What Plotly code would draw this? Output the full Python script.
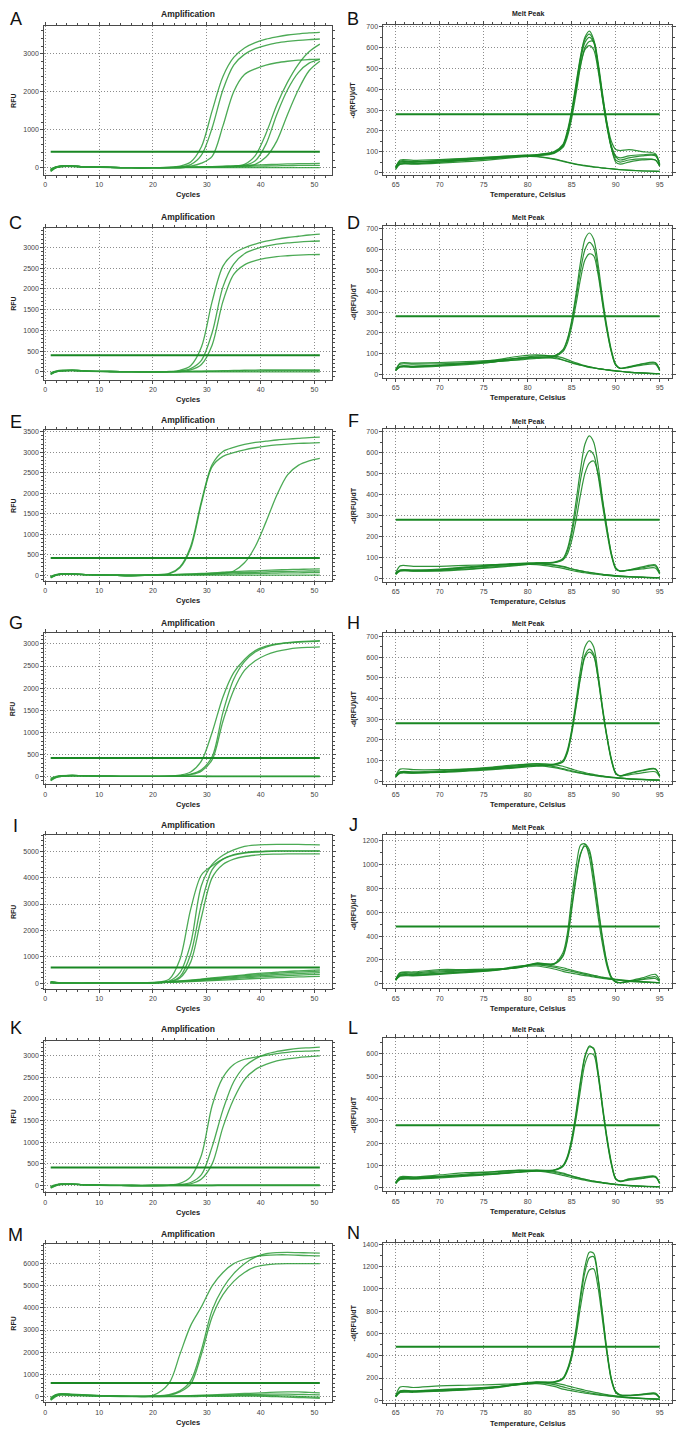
import plotly.graph_objects as go

# ---------------- data ----------------
CYCLES = [1, 2, 3, 5, 8, 12, 16, 20, 23, 25, 27, 29, 31, 33, 35, 37, 39, 41, 43, 45, 47, 49, 51]
TEMPS = [65, 65.5, 67, 70, 73, 76, 79, 81, 83, 84, 84.5, 85, 85.5, 86, 86.5, 87, 87.5, 88, 88.5, 89, 89.5, 90, 90.5, 91.5, 93, 94.5, 95]

amp_A = [
    [-80, 20, 50, 40, 20, 10, 0, 0, 10, 40, 150, 550, 1500, 2400, 2900, 3150, 3290, 3380, 3440, 3490, 3520, 3545, 3560],
    [-50, 10, 40, 40, 20, 10, 0, 0, 5, 20, 80, 330, 1050, 2050, 2700, 2980, 3130, 3220, 3280, 3320, 3350, 3370, 3385],
    [-100, 0, 30, 40, 20, 10, 0, 0, 0, 10, 40, 120, 300, 1100, 2000, 2450, 2600, 2700, 2760, 2800, 2830, 2845, 2855],
    [-60, 10, 40, 40, 20, 10, 0, 0, 0, 5, 10, 15, 20, 30, 40, 90, 320, 900, 1650, 2250, 2720, 3050, 3250],
    [-90, 0, 30, 40, 20, 10, 0, 0, 0, 5, 10, 15, 20, 25, 35, 60, 180, 620, 1400, 2050, 2500, 2750, 2850],
    [-40, 20, 40, 40, 20, 10, 0, 0, 0, 5, 10, 10, 15, 20, 25, 40, 90, 280, 700, 1400, 2050, 2550, 2800],
    [-70, 10, 40, 40, 20, 10, 0, 0, 5, 10, 15, 20, 30, 40, 50, 60, 70, 80, 90, 100, 105, 110, 115],
    [-30, 20, 40, 35, 20, 10, 0, 0, 0, 5, 10, 15, 20, 25, 30, 35, 40, 45, 50, 55, 60, 60, 60],
    [-50, 0, 30, 30, 15, 5, 0, 0, 0, 0, 0, 0, 0, 0, 0, 0, 0, 0, 0, 0, 0, 0, 0],
]
amp_C = [
    [-50, 10, 30, 40, 20, 10, 5, 0, 10, 40, 150, 600, 1700, 2550, 2850, 2990, 3080, 3150, 3200, 3240, 3270, 3300, 3320],
    [-30, 10, 30, 40, 20, 10, 5, 0, 5, 20, 80, 280, 950, 2050, 2600, 2850, 2960, 3030, 3080, 3110, 3130, 3145, 3155],
    [-60, 0, 20, 35, 20, 10, 5, 0, 5, 10, 50, 180, 650, 1700, 2350, 2580, 2680, 2740, 2780, 2800, 2815, 2825, 2830],
    [-40, 10, 30, 40, 20, 10, 0, 0, 5, 10, 15, 20, 25, 30, 35, 40, 45, 50, 50, 50, 50, 50, 50],
    [-20, 20, 40, 30, 20, 10, 0, 0, 0, 5, 10, 10, 15, 20, 20, 25, 25, 30, 30, 30, 30, 30, 30],
    [-60, 0, 20, 30, 15, 5, 0, 0, 0, 0, 0, 0, 0, 0, 0, 0, 0, 0, 0, 0, 0, 0, 0],
]
amp_E = [
    [-60, 0, 30, 30, 10, 0, -10, 10, 40, 200, 700, 1800, 2700, 3020, 3120, 3190, 3240, 3270, 3300, 3320, 3340, 3360, 3370],
    [-40, 10, 30, 30, 10, 0, -10, 5, 30, 180, 650, 1750, 2650, 2900, 2990, 3060, 3110, 3150, 3180, 3200, 3215, 3225, 3235],
    [-50, 0, 20, 30, 10, 0, -10, 0, 10, 15, 20, 20, 25, 40, 100, 300, 700, 1300, 1950, 2450, 2680, 2790, 2850],
    [-70, 0, 30, 30, 10, 0, -10, 0, 10, 20, 30, 40, 55, 70, 85, 95, 105, 115, 125, 135, 140, 145, 150],
    [-30, 10, 30, 30, 10, 0, -10, 0, 5, 10, 20, 30, 40, 50, 60, 65, 70, 80, 85, 90, 95, 100, 100],
    [-50, 0, 20, 25, 10, 0, -10, 0, 5, 10, 10, 15, 20, 25, 30, 35, 40, 45, 50, 55, 55, 60, 60],
    [-40, 0, 20, 20, 5, 0, -10, 0, 0, 0, 0, 0, 0, 0, 0, 0, 0, 0, 0, 0, 0, 0, 0],
]
amp_G = [
    [-80, -20, 10, 20, 10, 5, 0, 0, 5, 30, 100, 350, 1000, 1800, 2350, 2650, 2850, 2950, 3000, 3030, 3050, 3065, 3075],
    [-60, -10, 10, 20, 10, 5, 0, 0, 5, 15, 50, 150, 450, 1450, 2200, 2600, 2820, 2930, 2990, 3020, 3040, 3055, 3065],
    [-90, -20, 0, 15, 10, 5, 0, 0, 5, 10, 40, 120, 380, 1250, 1950, 2400, 2620, 2750, 2830, 2880, 2910, 2925, 2935],
    [-70, -10, 10, 20, 10, 5, 0, 0, 0, 0, 5, 5, 5, 5, 5, 5, 5, 5, 5, 5, 5, 5, 5],
    [-40, 0, 15, 20, 10, 5, 0, 0, 0, 0, 0, 0, 0, 0, 0, 0, 0, 0, 0, 0, 0, 0, 0],
    [-100, -30, 0, 10, 5, 0, 0, 0, 0, 0, 0, 0, -5, -5, -5, -5, -5, -5, -5, -5, -5, -5, -5],
]
amp_I = [
    [50, 30, 10, 0, 0, 0, 0, 20, 150, 900, 2800, 4100, 4450, 4700, 4850, 4930, 4970, 4990, 5000, 5000, 5000, 5000, 5000],
    [40, 20, 10, 0, 0, 0, 0, 15, 80, 400, 1500, 3700, 4500, 4850, 5050, 5180, 5230, 5250, 5260, 5260, 5260, 5250, 5240],
    [30, 20, 10, 0, 0, 0, 0, 10, 60, 250, 1100, 3000, 4300, 4700, 4870, 4950, 4990, 5000, 5010, 5010, 5010, 5010, 5010],
    [40, 20, 10, 0, 0, 0, 0, 10, 50, 200, 800, 2500, 4000, 4500, 4700, 4800, 4850, 4880, 4890, 4900, 4900, 4900, 4900],
    [60, 30, 10, 0, 0, 0, 5, 30, 60, 90, 120, 160, 200, 240, 280, 320, 360, 390, 420, 450, 470, 490, 510],
    [40, 20, 10, 0, 0, 0, 5, 25, 50, 80, 110, 145, 180, 215, 250, 285, 320, 350, 380, 400, 420, 440, 460],
    [30, 20, 5, 0, 0, 0, 5, 20, 45, 70, 95, 125, 155, 185, 215, 245, 275, 300, 325, 345, 365, 385, 400],
    [20, 10, 5, 0, 0, 0, 5, 20, 40, 60, 80, 105, 130, 155, 180, 205, 230, 250, 270, 290, 310, 325, 340],
    [10, 5, 0, 0, 0, 0, 5, 15, 30, 45, 60, 80, 100, 120, 140, 160, 180, 195, 210, 225, 240, 250, 260],
]
amp_K = [
    [-40, 10, 30, 30, 15, 5, 0, 0, 10, 50, 200, 700, 1850, 2500, 2800, 2920, 2970, 3010, 3050, 3080, 3100, 3110, 3120],
    [-30, 10, 30, 30, 15, 5, 0, 0, 5, 20, 70, 250, 900, 1750, 2400, 2750, 2930, 3040, 3100, 3140, 3170, 3185, 3200],
    [-50, 0, 25, 30, 15, 5, 0, 0, 5, 15, 40, 150, 500, 1350, 2000, 2450, 2680, 2800, 2880, 2930, 2960, 2980, 3000],
    [-40, 10, 30, 30, 15, 5, 0, 0, 5, 5, 10, 10, 10, 15, 15, 15, 15, 15, 15, 15, 15, 15, 15],
    [-20, 20, 35, 30, 15, 5, 0, 0, 0, 0, 0, 0, 0, 0, 0, 0, 0, 0, 0, 0, 0, 0, 0],
    [-60, 0, 20, 25, 10, 0, 0, 0, 0, 0, 0, 0, 0, 5, 5, 5, 5, 5, 5, 5, 5, 5, 5],
]
amp_M = [
    [-150, 50, 100, 80, 50, 20, 0, 50, 600, 1900, 3200, 4050, 5000, 5600, 6000, 6200, 6320, 6380, 6400, 6400, 6380, 6360, 6350],
    [-100, 80, 100, 80, 50, 20, 0, 20, 80, 250, 700, 2100, 3900, 4900, 5550, 6000, 6300, 6450, 6500, 6510, 6500, 6490, 6480],
    [-120, 60, 90, 70, 40, 20, 0, 10, 50, 200, 550, 1900, 3600, 4600, 5200, 5600, 5850, 5950, 5990, 6000, 6000, 6000, 6000],
    [-180, 0, 80, 60, 40, 20, 0, 0, 10, 20, 30, 50, 70, 90, 110, 130, 150, 170, 190, 200, 200, 180, 160],
    [-100, 50, 100, 80, 40, 20, 0, 0, 10, 20, 30, 40, 50, 60, 70, 80, 90, 100, 100, 100, 90, 80, 70],
    [-150, 20, 60, 40, 20, 0, -10, -10, 0, 10, 20, 30, 30, 40, 40, 50, 50, 40, 30, 20, 0, -20, -40],
    [-50, 80, 120, 100, 60, 20, 0, -10, -10, -10, -10, 0, 0, 0, 10, 10, 10, 0, -10, -30, -50, -70, -90],
]

melt_B = [
    [25, 60, 58, 62, 68, 75, 82, 86, 100, 135, 200, 300, 430, 560, 650, 680, 640, 520, 370, 240, 150, 110, 105, 110, 100, 90, 40],
    [20, 50, 50, 55, 62, 70, 80, 85, 98, 130, 190, 290, 420, 550, 640, 665, 630, 510, 360, 230, 130, 80, 70, 80, 85, 85, 35],
    [20, 45, 45, 50, 58, 66, 76, 82, 95, 125, 185, 280, 410, 540, 625, 650, 625, 510, 360, 225, 120, 60, 50, 60, 65, 60, 30],
    [15, 40, 40, 45, 52, 62, 74, 80, 92, 120, 170, 260, 380, 510, 600, 630, 630, 530, 380, 240, 120, 50, 40, 50, 60, 60, 30],
    [25, 55, 52, 55, 62, 70, 78, 83, 95, 128, 185, 280, 400, 520, 590, 610, 590, 490, 350, 220, 120, 75, 60, 70, 80, 80, 35],
    [30, 50, 50, 58, 66, 74, 80, 78, 65, 55, 50, 45, 40, 37, 34, 30, 27, 25, 22, 20, 18, 16, 14, 11, 8, 6, 5],
    [20, 40, 42, 50, 60, 70, 78, 76, 63, 53, 48, 43, 39, 35, 32, 29, 26, 24, 21, 19, 17, 15, 13, 10, 7, 5, 5],
]
melt_D = [
    [20, 55, 55, 58, 62, 68, 78, 85, 90, 120, 170, 260, 390, 540, 650, 680, 650, 530, 370, 230, 120, 50, 30, 35, 50, 55, 20],
    [20, 40, 40, 45, 52, 60, 72, 82, 88, 115, 165, 250, 370, 500, 600, 635, 610, 500, 350, 220, 110, 45, 30, 38, 52, 58, 25],
    [25, 50, 50, 52, 56, 62, 70, 78, 85, 110, 150, 230, 340, 460, 550, 580, 570, 480, 340, 210, 110, 45, 30, 35, 45, 50, 20],
    [25, 40, 40, 45, 55, 68, 88, 95, 85, 70, 63, 56, 50, 45, 40, 35, 32, 29, 26, 23, 20, 18, 16, 12, 8, 5, 5],
    [20, 35, 35, 40, 48, 60, 78, 82, 78, 70, 64, 58, 52, 46, 41, 36, 32, 28, 25, 22, 19, 17, 15, 11, 7, 4, 4],
    [20, 38, 38, 43, 52, 64, 80, 90, 90, 80, 72, 64, 56, 49, 43, 38, 33, 29, 26, 23, 20, 18, 16, 12, 8, 5, 5],
]
melt_F = [
    [25, 60, 58, 58, 62, 66, 70, 75, 78, 95, 140, 230, 370, 520, 640, 680, 650, 540, 380, 240, 120, 50, 35, 40, 55, 65, 25],
    [20, 40, 38, 38, 45, 55, 65, 72, 76, 92, 130, 210, 330, 470, 570, 610, 590, 490, 350, 220, 110, 45, 35, 40, 50, 60, 25],
    [20, 38, 35, 35, 42, 52, 62, 70, 75, 88, 115, 180, 280, 400, 500, 550, 560, 500, 370, 240, 120, 50, 35, 40, 45, 50, 20],
    [25, 40, 40, 45, 55, 65, 72, 72, 62, 55, 50, 45, 40, 36, 32, 29, 26, 23, 20, 18, 16, 14, 12, 9, 6, 4, 4],
    [20, 35, 35, 40, 50, 60, 68, 66, 55, 48, 43, 38, 34, 30, 27, 24, 21, 19, 16, 14, 12, 10, 9, 7, 5, 3, 3],
    [22, 38, 38, 42, 52, 62, 70, 70, 65, 58, 52, 46, 41, 36, 32, 28, 25, 22, 19, 17, 15, 13, 11, 8, 6, 4, 4],
]
melt_H = [
    [25, 58, 55, 55, 58, 62, 70, 78, 82, 100, 150, 250, 390, 540, 650, 680, 650, 520, 360, 220, 110, 40, 25, 35, 50, 58, 25],
    [20, 45, 42, 45, 50, 58, 68, 75, 80, 95, 140, 240, 370, 510, 610, 640, 615, 500, 350, 215, 105, 38, 25, 38, 52, 60, 25],
    [20, 40, 40, 42, 48, 55, 65, 72, 78, 92, 135, 230, 360, 500, 600, 625, 605, 495, 345, 210, 100, 35, 25, 30, 40, 45, 20],
    [25, 45, 45, 50, 58, 68, 80, 82, 70, 60, 55, 50, 45, 40, 36, 32, 29, 26, 23, 20, 18, 16, 14, 11, 8, 6, 5],
    [20, 38, 38, 44, 52, 62, 75, 76, 65, 56, 51, 46, 42, 38, 34, 30, 27, 24, 21, 19, 17, 15, 13, 10, 7, 5, 5],
    [22, 40, 40, 45, 55, 65, 78, 85, 80, 72, 65, 58, 52, 46, 41, 36, 32, 28, 25, 22, 19, 17, 15, 11, 8, 5, 5],
]
melt_J = [
    [40, 95, 100, 120, 120, 125, 140, 175, 170, 260, 420, 720, 980, 1160, 1170, 1060, 830, 560, 330, 150, 50, 15, 10, 25, 50, 80, 35],
    [35, 90, 92, 110, 115, 120, 135, 170, 165, 230, 360, 620, 880, 1080, 1165, 1120, 920, 650, 390, 180, 60, 20, 10, 20, 40, 60, 25],
    [30, 80, 85, 100, 110, 118, 138, 172, 168, 240, 380, 650, 900, 1090, 1150, 1100, 890, 620, 370, 170, 55, 18, 10, 20, 35, 45, 20],
    [40, 70, 72, 85, 100, 115, 150, 160, 140, 120, 112, 104, 96, 88, 80, 72, 65, 58, 52, 46, 41, 36, 32, 25, 18, 12, 10],
    [35, 65, 68, 80, 95, 110, 145, 165, 150, 135, 125, 115, 106, 97, 88, 80, 72, 64, 57, 50, 44, 39, 34, 27, 19, 13, 10],
    [30, 75, 78, 90, 102, 112, 140, 150, 125, 105, 97, 90, 83, 76, 70, 64, 58, 52, 47, 42, 37, 33, 29, 22, 15, 10, 8],
]
melt_L = [
    [20, 45, 45, 50, 55, 62, 72, 78, 80, 100, 140, 220, 340, 480, 590, 635, 620, 510, 360, 220, 110, 40, 30, 38, 45, 50, 20],
    [20, 40, 40, 45, 52, 60, 70, 76, 80, 98, 135, 215, 330, 470, 585, 630, 625, 520, 370, 230, 115, 42, 30, 40, 48, 52, 22],
    [25, 50, 48, 52, 56, 62, 70, 75, 78, 95, 130, 200, 310, 440, 555, 600, 595, 500, 355, 215, 105, 38, 28, 35, 42, 48, 20],
    [25, 45, 48, 58, 68, 72, 78, 78, 70, 62, 57, 52, 47, 42, 38, 34, 30, 27, 24, 21, 18, 16, 14, 11, 8, 6, 5],
    [20, 38, 40, 48, 58, 66, 76, 80, 74, 66, 60, 54, 48, 43, 38, 34, 30, 27, 24, 21, 18, 16, 14, 10, 7, 5, 5],
    [22, 40, 42, 50, 62, 72, 80, 76, 65, 56, 51, 46, 42, 38, 34, 30, 27, 24, 21, 19, 17, 15, 13, 10, 7, 5, 4],
]
melt_N = [
    [40, 120, 115, 130, 135, 140, 150, 160, 165, 200, 280, 420, 650, 950, 1200, 1330, 1320, 1100, 780, 450, 200, 80, 50, 45, 55, 65, 25],
    [35, 80, 80, 95, 105, 120, 145, 160, 165, 195, 270, 400, 620, 910, 1150, 1280, 1290, 1090, 770, 440, 190, 75, 48, 45, 52, 60, 22],
    [35, 85, 85, 95, 105, 118, 140, 155, 160, 190, 260, 380, 580, 840, 1060, 1170, 1180, 1010, 720, 420, 180, 70, 45, 42, 48, 55, 20],
    [40, 80, 80, 90, 100, 115, 145, 160, 140, 120, 110, 100, 92, 84, 76, 68, 61, 55, 49, 44, 39, 35, 31, 24, 17, 11, 10],
    [35, 75, 75, 85, 95, 110, 140, 150, 125, 100, 92, 85, 78, 71, 65, 59, 53, 48, 43, 39, 35, 31, 28, 22, 15, 10, 8],
    [30, 70, 72, 82, 94, 112, 150, 165, 155, 140, 130, 120, 110, 100, 90, 82, 74, 66, 58, 51, 45, 40, 35, 27, 18, 12, 10],
]

thresholds = {"A": 420, "B": 280, "C": 400, "D": 280, "E": 420, "F": 280, "G": 415,
              "H": 280, "I": 600, "J": 480, "K": 415, "L": 280, "M": 600, "N": 480}
amp_span = [1, 51]
melt_span = [65, 95]

amp_data = {"A": amp_A, "C": amp_C, "E": amp_E, "G": amp_G, "I": amp_I, "K": amp_K, "M": amp_M}
melt_data = {"B": melt_B, "D": melt_D, "F": melt_F, "H": melt_H, "J": melt_J, "L": melt_L, "N": melt_N}

# ---------------- layout (pixel boxes) ----------------
W, H = 685, 1440
LEFT_COL = (43.3, 331.7)
RIGHT_COL = (383.0, 672.0)
# letter: (top, bottom, yrange, ydtick, title_y, letter_y)
boxes = {
    "A": (24.3, 173.3, [-190, 3720], 1000, 12, 17),
    "B": (23.3, 173.3, [-12, 708], 100, 12, 17),
    "C": (226, 378.3, [-183, 3480], 500, 215, 221),
    "D": (224, 376.7, [-16, 716], 100, 216, 221),
    "E": (429.3, 580, [-139, 3534], 500, 419, 421),
    "F": (428.3, 581, [-16, 711], 100, 420, 420),
    "G": (632.7, 784, [-181, 3240], 500, 622, 622),
    "H": (632.7, 784, [-16, 716], 100, 623, 622),
    "I": (834.3, 989, [-215, 5631], 1000, 825, 826),
    "J": (835, 988.3, [-36, 1242], 200, 827, 825),
    "K": (1040.7, 1192.7, [-155, 3353], 500, 1029, 1028),
    "L": (1038.3, 1191.7, [-15, 670], 100, 1030, 1028),
    "M": (1245, 1403.3, [-271, 6871], 1000, 1235, 1236),
    "N": (1243.3, 1404, [-25, 1415], 200, 1235, 1234),
}
order = ["A", "B", "C", "D", "E", "F", "G", "H", "I", "J", "K", "L", "M", "N"]

AMP_COLOR = "rgba(45,155,55,0.85)"
MELT_COLOR = "rgba(25,135,35,0.9)"
THR_COLOR = "rgb(25,135,35)"
FONT = "Liberation Sans, Arial, sans-serif"
FRAME = "#4a4a4a"

fig = go.Figure()
annotations = []

def py(v):
    return 1 - v / H

def px(v):
    return v / W

for k, letter in enumerate(order, start=1):
    top, bottom, yr, ydt, title_y, letter_y = boxes[letter]
    is_amp = letter in amp_data
    x0, x1 = LEFT_COL if is_amp else RIGHT_COL
    xa = f"x{k}" if k > 1 else "x"
    ya = f"y{k}" if k > 1 else "y"
    xkey = f"xaxis{k}" if k > 1 else "xaxis"
    ykey = f"yaxis{k}" if k > 1 else "yaxis"

    if is_amp:
        for curve in amp_data[letter]:
            fig.add_trace(go.Scatter(x=CYCLES, y=curve, mode="lines", xaxis=xa, yaxis=ya,
                                     line=dict(color=AMP_COLOR, width=1.3, shape="spline", smoothing=0.9),
                                     showlegend=False, hoverinfo="skip"))
        fig.add_trace(go.Scatter(x=amp_span, y=[thresholds[letter]] * 2, mode="lines", xaxis=xa, yaxis=ya,
                                 line=dict(color=THR_COLOR, width=2), showlegend=False, hoverinfo="skip"))
        xrange = [-0.2, 53.3]
        xdt, xminor = 10, 2
        ttl, xt, yt = "Amplification", "Cycles", "RFU"
        ttl_size = 8.5
        ymin = ydt / 5
    else:
        for curve in melt_data[letter]:
            fig.add_trace(go.Scatter(x=TEMPS, y=curve, mode="lines", xaxis=xa, yaxis=ya,
                                     line=dict(color=MELT_COLOR, width=1.2, shape="spline", smoothing=0.8),
                                     showlegend=False, hoverinfo="skip"))
        fig.add_trace(go.Scatter(x=melt_span, y=[thresholds[letter]] * 2, mode="lines", xaxis=xa, yaxis=ya,
                                 line=dict(color=THR_COLOR, width=2), showlegend=False, hoverinfo="skip"))
        xrange = [63.6, 96.4]
        xdt, xminor = 5, 1
        ttl, xt, yt = "Melt Peak", "Temperature, Celsius", "-d(RFU)/dT"
        ttl_size = 7
        ymin = ydt / 2

    common = dict(showline=True, linecolor=FRAME, linewidth=1, mirror="allticks",
                  ticks="outside", ticklen=3, tickcolor=FRAME, tickwidth=1,
                  showgrid=True, gridcolor="#8c8c8c", griddash="1px,2px", gridwidth=1,
                  zeroline=False, tickfont=dict(family=FONT, size=7, color="#444"),
                  fixedrange=True)
    fig.update_layout({
        xkey: dict(domain=[px(x0), px(x1)], range=xrange, anchor=ya, dtick=xdt, tick0=0,
                   minor=dict(ticks="outside", ticklen=2, dtick=xminor, tick0=0, tickcolor=FRAME, showgrid=False),
                   **common),
        ykey: dict(domain=[py(bottom), py(top)], range=yr, anchor=xa, dtick=ydt, tick0=0,
                   minor=dict(ticks="outside", ticklen=2, dtick=ymin, tick0=0, tickcolor=FRAME, showgrid=False),
                   **common),
    })

    cx = (x0 + x1) / 2
    cy = (top + bottom) / 2
    annotations.append(dict(text=f"<b>{ttl}</b>", x=px(cx), y=py(title_y), xref="paper", yref="paper",
                            xanchor="center", yanchor="middle", showarrow=False,
                            font=dict(family=FONT, size=ttl_size, color="#222")))
    annotations.append(dict(text=f"<b>{xt}</b>", x=px(cx), y=py(bottom + 20), xref="paper", yref="paper",
                            xanchor="center", yanchor="middle", showarrow=False,
                            font=dict(family=FONT, size=7.5, color="#222")))
    annotations.append(dict(text=f"<b>{yt}</b>", x=px(x0 - 31 if is_amp else x0 - 30), y=py(cy),
                            xref="paper", yref="paper", xanchor="center", yanchor="middle",
                            textangle=-90, showarrow=False,
                            font=dict(family=FONT, size=7, color="#222")))
    annotations.append(dict(text=letter, x=px(15 if is_amp else 353), y=py(letter_y), xref="paper", yref="paper",
                            xanchor="center", yanchor="middle", showarrow=False,
                            font=dict(family=FONT, size=18, color="#111")))

fig.update_layout(width=W, height=H, margin=dict(l=0, r=0, t=0, b=0),
                  paper_bgcolor="white", plot_bgcolor="white",
                  annotations=annotations, showlegend=False)

fig.write_html("out.html")
